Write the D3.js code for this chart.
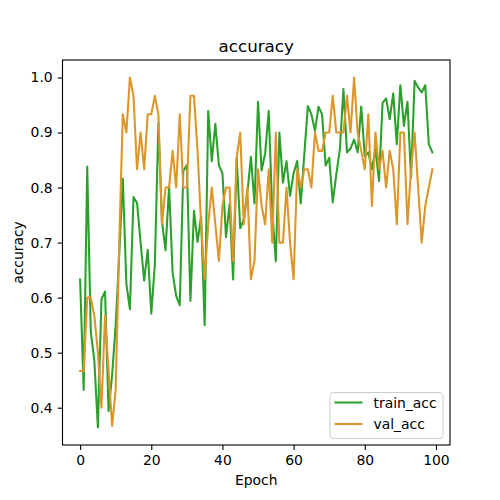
<!DOCTYPE html>
<html>
<head lang="en">
    <meta charset="utf-8">
    <title>accuracy</title>
    <style type="text/css">
        body {
            margin: 0;
            background: #fff;
        }
        text {
            font-family: "DejaVu Sans", sans-serif;
            fill: #000;
        }
    </style>
</head>
<body>

<div id="chart"></div>

<script type="text/javascript" src="https://cdn.jsdelivr.net/npm/d3@7"></script>
<script type="text/javascript">
    // epochs 0..99
    var epochs = d3.range(0, 100);

    var trainAcc = [
        0.633, 0.432, 0.838, 0.538, 0.485, 0.364, 0.597, 0.611, 0.394, 0.46,
        0.55, 0.68, 0.816, 0.625, 0.579, 0.783, 0.772, 0.70, 0.631, 0.687,
        0.571, 0.66, 0.917, 0.74, 0.686, 0.802, 0.645, 0.603, 0.586, 0.830,
        0.841, 0.594, 0.758, 0.701, 0.747, 0.550, 0.939, 0.848, 0.916, 0.840,
        0.826, 0.710, 0.770, 0.633, 0.853, 0.726, 0.742, 0.790, 0.856, 0.771,
        0.956, 0.831, 0.862, 0.939, 0.758, 0.666, 0.900, 0.809, 0.848, 0.785,
        0.826, 0.848, 0.771, 0.860, 0.948, 0.933, 0.903, 0.947, 0.933, 0.840,
        0.854, 0.773, 0.824, 0.870, 0.979, 0.864, 0.871, 0.887, 0.864, 0.947,
        0.857, 0.864, 0.833, 0.870, 0.812, 0.954, 0.962, 0.924, 0.971, 0.879,
        0.986, 0.912, 0.956, 0.818, 0.994, 0.982, 0.973, 0.986, 0.879, 0.864
    ];

    var valAcc = [
        0.4667, 0.4667, 0.6, 0.6, 0.5667, 0.5, 0.4, 0.5667, 0.4667, 0.3667,
        0.4333, 0.7, 0.9333, 0.9, 1.0, 0.9667, 0.8333, 0.9, 0.8333, 0.9333,
        0.9333, 0.9667, 0.9333, 0.7333, 0.8, 0.8, 0.8667, 0.8, 0.9333, 0.8,
        0.8, 0.9667, 0.9667, 0.8667, 0.7333, 0.6333, 0.7333, 0.8, 0.7333, 0.6667,
        0.7667, 0.8, 0.8, 0.6667, 0.855, 0.9, 0.7333, 0.8, 0.6333, 0.6667,
        0.8333, 0.7667, 0.7333, 0.8333, 0.7, 0.9, 0.7, 0.7, 0.8, 0.7,
        0.6333, 0.8333, 0.8, 0.8333, 0.8333, 0.8, 0.9, 0.8667, 0.8667, 0.9,
        0.9, 0.9667, 0.9, 0.9, 0.9, 0.9667, 0.9, 1.0, 0.9, 0.8667,
        0.8333, 0.9333, 0.7667, 0.9, 0.8333, 0.8667, 0.8, 0.8667, 0.8333, 0.7333,
        0.9, 0.9, 0.7333, 0.8333, 0.9, 0.8, 0.7, 0.7667, 0.8, 0.8333
    ];

    var xTicks = [0, 20, 40, 60, 80, 100];
    var yTicks = [0.4, 0.5, 0.6, 0.7, 0.8, 0.9, 1.0];
    var seriesNames = ["train_acc", "val_acc"];
    var seriesColors = ["#2ca02c", "#dc962a"];

    var width = 500, height = 500;
    // axes box (window.top is read-only, so keep these in an object)
    var box = {left: 62.5, right: 450, top: 60, bottom: 445};

    var svg = d3.select("#chart").append("svg")
        .attr("width", width)
        .attr("height", height);

    // matplotlib style 5% margins
    var xMin = d3.min(epochs), xMax = d3.max(epochs);
    var xPad = (xMax - xMin) * 0.05;
    var all = trainAcc.concat(valAcc);
    var yMin = d3.min(all), yMax = d3.max(all);
    var yPad = (yMax - yMin) * 0.05;

    var x = d3.scaleLinear().domain([xMin - xPad, xMax + xPad]).range([box.left, box.right]);
    var y = d3.scaleLinear().domain([yMin - yPad, yMax + yPad]).range([box.bottom, box.top]);

    var xAxis = d3.axisBottom(x).tickValues(xTicks).tickSize(4.9).tickPadding(4.9)
        .tickFormat(d3.format("d"));
    var yAxis = d3.axisLeft(y).tickValues(yTicks).tickSize(4.9).tickPadding(4.9)
        .tickFormat(d3.format(".1f"));

    var gx = svg.append("g").attr("transform", "translate(0," + box.bottom + ")").call(xAxis);
    var gy = svg.append("g").attr("transform", "translate(" + box.left + ",0)").call(yAxis);
    [gx, gy].forEach(function (g) {
        g.select(".domain").remove();
        g.selectAll(".tick line").attr("stroke", "#000").attr("stroke-width", 1.1);
        g.selectAll(".tick text").attr("font-size", "13.9px")
            .attr("font-family", "DejaVu Sans");
    });

    // lines
    var line = d3.line()
        .x(function (d, i) { return x(epochs[i]); })
        .y(function (d) { return y(d); });

    [trainAcc, valAcc].forEach(function (s, k) {
        svg.append("path")
            .datum(s)
            .attr("fill", "none")
            .attr("stroke", seriesColors[k])
            .attr("stroke-width", 2.08)
            .attr("stroke-linejoin", "round")
            .attr("stroke-linecap", "square")
            .attr("d", line);
    });

    // frame
    svg.append("rect")
        .attr("x", box.left).attr("y", box.top)
        .attr("width", box.right - box.left).attr("height", box.bottom - box.top)
        .attr("fill", "none").attr("stroke", "#000").attr("stroke-width", 1.1);

    // title + labels
    var cx = (box.left + box.right) / 2;
    svg.append("text").attr("x", cx).attr("y", 52)
        .attr("text-anchor", "middle").attr("font-size", "16.7px").text("accuracy");
    svg.append("text").attr("x", cx).attr("y", 485)
        .attr("text-anchor", "middle").attr("font-size", "13.9px").text("Epoch");
    svg.append("text")
        .attr("transform", "translate(23," + (box.top + box.bottom) / 2 + ") rotate(-90)")
        .attr("text-anchor", "middle").attr("font-size", "13.9px").text("accuracy");

    // legend
    var lg = svg.append("g");
    lg.append("rect")
        .attr("x", 330).attr("y", 392.5)
        .attr("width", 113).attr("height", 46)
        .attr("rx", 3).attr("ry", 3)
        .attr("fill", "#fff").attr("fill-opacity", 0.8)
        .attr("stroke", "#ccc").attr("stroke-width", 1);

    lg.selectAll(".item")
        .data(seriesNames)
        .enter().append("g")
        .attr("class", "item")
        .attr("transform", function (d, i) { return "translate(0," + (402.5 + i * 21.5) + ")"; })
        .each(function (d, i) {
            var g = d3.select(this);
            g.append("line")
                .attr("x1", 334.5).attr("x2", 362.5)
                .attr("y1", 0).attr("y2", 0)
                .attr("stroke", seriesColors[i]).attr("stroke-width", 2.08);
            g.append("text")
                .attr("x", 373.5).attr("y", 5)
                .attr("font-size", "13.9px")
                .text(d);
        });
</script>
</body>
</html>
